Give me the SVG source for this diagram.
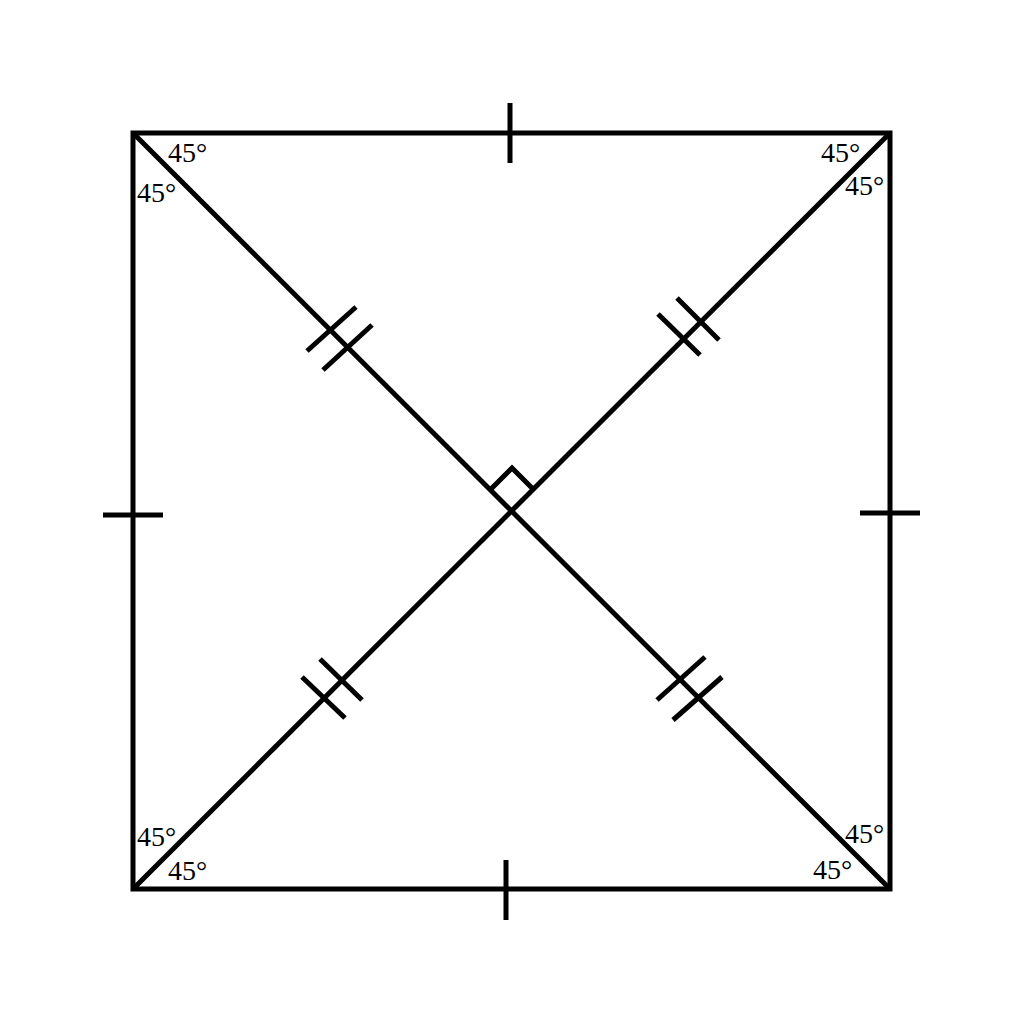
<svg xmlns="http://www.w3.org/2000/svg" width="1024" height="1024" viewBox="0 0 1024 1024">
<style>
.ln{stroke:#000;stroke-width:5;fill:none;stroke-linecap:butt}
.tk{stroke:#000;stroke-width:5;fill:none}
.lb{font-family:"Liberation Serif","Times New Roman",serif;font-size:28px;fill:#000}
</style>
<rect width="1024" height="1024" fill="#fff"/>
<g id="square">
<rect class="ln" x="133" y="133" width="757" height="756" stroke-linejoin="miter"/>
</g>
<g id="connectors">
<line class="ln" x1="133" y1="133" x2="890" y2="889"/>
<line class="ln" x1="890" y1="133" x2="133" y2="889"/>
</g>
<g id="side-ticks">
<line class="tk" x1="510" y1="103" x2="510" y2="163"/>
<line class="tk" x1="103" y1="515" x2="163" y2="515"/>
<line class="tk" x1="860" y1="513" x2="920" y2="513"/>
<line class="tk" x1="506" y1="860" x2="506" y2="920"/>
</g>
<g id="diagonal-ticks">
<line class="tk" x1="307" y1="351" x2="356" y2="307"/>
<line class="tk" x1="323" y1="370" x2="372" y2="325"/>
<line class="tk" x1="658" y1="314" x2="700" y2="355"/>
<line class="tk" x1="677" y1="298" x2="719" y2="340"/>
<line class="tk" x1="302" y1="677" x2="345" y2="718"/>
<line class="tk" x1="320" y1="659" x2="362" y2="700"/>
<line class="tk" x1="657" y1="700" x2="705" y2="657"/>
<line class="tk" x1="673" y1="720" x2="722" y2="677"/>
</g>
<g id="right-angle">
<polyline class="ln" stroke-width="4" points="491,489 512,468 533,489"/>
</g>
<g id="labels">
<text class="lb" x="168" y="162">45°</text>
<text class="lb" x="137" y="202">45°</text>
<text class="lb" x="821" y="162">45°</text>
<text class="lb" x="845" y="195">45°</text>
<text class="lb" x="137" y="846">45°</text>
<text class="lb" x="168" y="880">45°</text>
<text class="lb" x="845" y="843">45°</text>
<text class="lb" x="813" y="879">45°</text>
</g>
</svg>
